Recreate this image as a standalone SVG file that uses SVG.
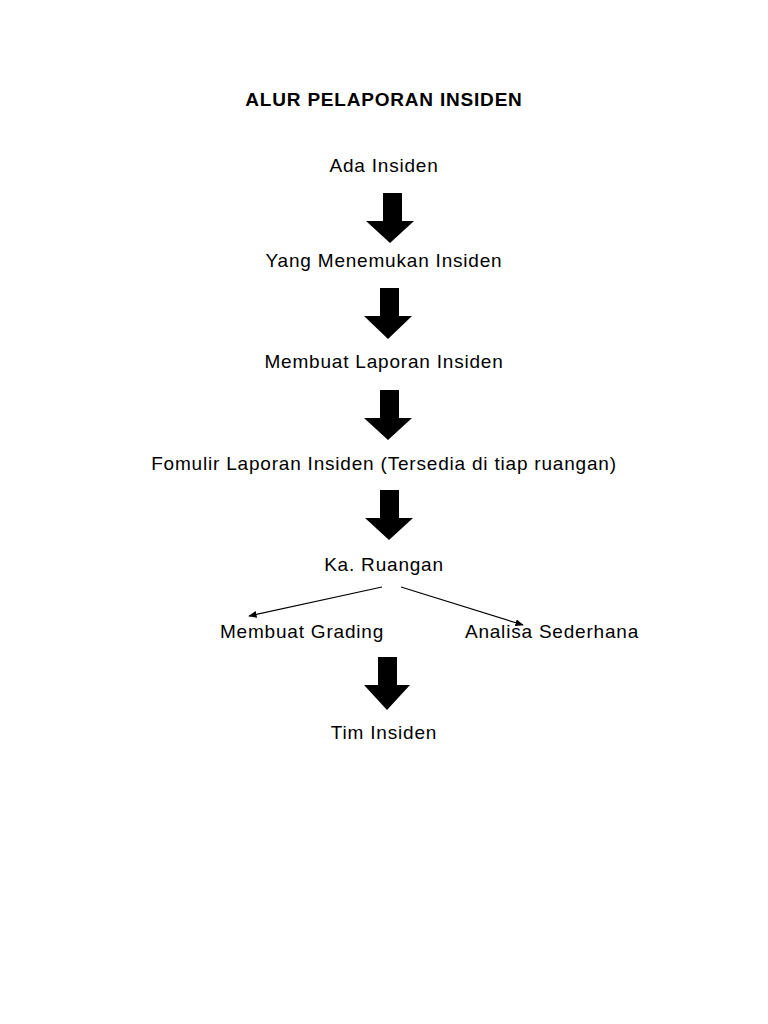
<svg xmlns="http://www.w3.org/2000/svg" width="768" height="1024" viewBox="0 0 768 1024">
<style>
text{font-family:"Liberation Sans",Arial,sans-serif;font-size:19px;letter-spacing:0.8px;fill:#000;text-anchor:middle}
.t{font-weight:bold}
.ba{fill:#000}
.ln{stroke:#000;stroke-width:1.2;fill:none}
</style>
<defs><marker id="ah" viewBox="0 0 10 10" refX="9" refY="5" markerWidth="7" markerHeight="7" orient="auto"><path d="M0,1 L10,5 L0,9 z" fill="#000"/></marker></defs>
<rect width="768" height="1024" fill="#fff"/>
<text class="t" x="384" y="106">ALUR PELAPORAN INSIDEN</text>
<g id="n1"><text x="384" y="172">Ada Insiden</text></g>
<g id="n2"><text x="384" y="267">Yang Menemukan Insiden</text></g>
<g id="n3"><text x="384" y="368">Membuat Laporan Insiden</text></g>
<g id="n4"><text x="384" y="470">Fomulir Laporan Insiden (Tersedia di tiap ruangan)</text></g>
<g id="n5"><text x="384" y="571">Ka. Ruangan</text></g>
<g id="n6"><text x="302" y="638">Membuat Grading</text></g>
<g id="n7"><text x="552" y="638">Analisa Sederhana</text></g>
<g id="n8"><text x="384" y="739">Tim Insiden</text></g>
<g id="connectors">
<path class="ba" d="M383,193 H402 V221 H414 L390,243 L366,221 H383 Z"/>
<path class="ba" d="M380,288 H399 V316 H412 L388,339 L364,316 H380 Z"/>
<path class="ba" d="M380,390 H399 V418 H412 L388,440 L364,418 H380 Z"/>
<path class="ba" d="M380,490 H399 V518 H413 L389,540 L365,518 H380 Z"/>
<path class="ba" d="M378,657 H397 V685 H410 L387,710 L364,685 H378 Z"/>
<line class="ln" x1="382" y1="587" x2="249" y2="616" marker-end="url(#ah)"/>
<line class="ln" x1="401" y1="587" x2="523" y2="625" marker-end="url(#ah)"/>
</g>
</svg>
